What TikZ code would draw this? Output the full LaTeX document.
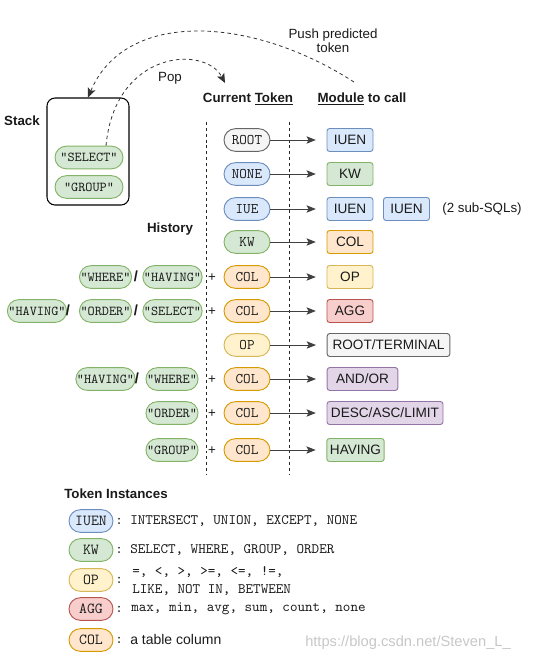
\documentclass[tikz,border=0pt]{standalone}
\usepackage{fontspec}
\setmainfont{Liberation Sans}
\usetikzlibrary{arrows.meta}
\definecolor{bluef}{HTML}{DAE8FC}\definecolor{blued}{HTML}{6C8EBF}
\definecolor{greenf}{HTML}{D5E8D4}\definecolor{greend}{HTML}{82B366}
\definecolor{orangef}{HTML}{FFE6CC}\definecolor{oranged}{HTML}{D79B00}
\definecolor{yellowf}{HTML}{FFF2CC}\definecolor{yellowd}{HTML}{D6B656}
\definecolor{redf}{HTML}{F8CECC}\definecolor{redd}{HTML}{B85450}
\definecolor{purplef}{HTML}{E1D5E7}\definecolor{purpled}{HTML}{9673A6}
\definecolor{grayf}{HTML}{F5F5F5}\definecolor{grayd}{HTML}{666666}
\definecolor{ink}{HTML}{1A1A1A}
\begin{document}
\begin{tikzpicture}[x=0.75pt,y=-0.75pt,
  every node/.style={text=ink},
  cblue/.style={fill=bluef,draw=blued},
  cgreen/.style={fill=greenf,draw=greend},
  corange/.style={fill=orangef,draw=oranged},
  cyellow/.style={fill=yellowf,draw=yellowd},
  cred/.style={fill=redf,draw=redd},
  cpurple/.style={fill=purplef,draw=purpled},
  cgray/.style={fill=grayf,draw=grayd},
  pill/.style={rectangle,rounded corners=8.5pt,minimum height=17pt,minimum width=34.5pt,
    inner xsep=1pt,inner ysep=1pt,line width=0.7pt,font=\ttfamily\fontsize{11}{12}\selectfont},
  hist/.style={pill,cgreen,minimum width=0pt,inner xsep=0.8pt,font=\ttfamily\fontsize{10.2}{12}\selectfont},
  legpill/.style={pill,minimum width=33pt,font=\ttfamily\fontsize{11.5}{12}\selectfont},
  modbox/.style={rectangle,rounded corners=2pt,minimum height=17.25pt,minimum width=34.5pt,
    inner sep=1pt,line width=0.7pt,font=\fontsize{10.2}{12}\selectfont},
  hdr/.style={font=\bfseries\fontsize{10}{12}\selectfont},
  lbl/.style={font=\fontsize{10}{12}\selectfont},
  sep/.style={font=\bfseries\fontsize{11}{12}\selectfont,inner sep=0pt},
  plus/.style={font=\fontsize{10}{12}\selectfont,inner sep=0pt},
  desc/.style={anchor=west,inner sep=0pt,font=\ttfamily\fontsize{10.8}{13.5}\selectfont,align=left},
  conn/.style={draw=black!75,line width=0.7pt,-{Stealth[length=7pt,width=5.5pt,inset=1.5pt]},shorten >=8pt},
  curv/.style={draw=black!80,line width=0.6pt,dash pattern=on 2.6pt off 2.4pt,
    -{Stealth[length=7pt,width=6pt,inset=1.5pt]}},
  vsep/.style={draw=black!85,line width=0.6pt,dash pattern=on 2.2pt off 2.2pt}
]
\useasboundingbox (0,0) rectangle (549,662);

% ---------- stack ----------
\node[hdr] (stacklbl) at (22,121) {Stack};
\node[draw=black,line width=0.8pt,rounded corners=6pt,minimum width=61.5pt,minimum height=80.25pt] (stack) at (88,151.5) {};
\node[hist,minimum width=51pt] (sel) at (89,157.5) {"SELECT"};
\node[hist,minimum width=51pt] (grp) at (89,187) {"GROUP"};

% ---------- headers ----------
\node[hdr] (hcur) at (248,99) {Current \underline{Token}};
\node[hdr] (hmod) at (362,99) {\underline{Module} to call};
\node[hdr] (hhist) at (170,229) {History};

% ---------- curved arrows ----------
\coordinate (pushstart) at (354,82);
\coordinate (popend) at (225,83);
\draw[curv] (pushstart) .. controls (250,15) and (125,10) .. (stack.north);
\draw[curv] ([xshift=12.75pt]sel.north) .. controls (115,50) and (205,45) .. (popend);
\node[lbl] (poplbl) at (170,78) {Pop};
\node[lbl,align=center,inner sep=0pt] (pushlbl) at (333,41) {Push predicted\\[-1.5pt]token};

% ---------- vertical separators ----------
\coordinate (v1t) at (206,122); \coordinate (v1b) at (206,475);
\coordinate (v2t) at (289,122); \coordinate (v2b) at (289,475);
\draw[vsep] (v1t) -- (v1b);
\draw[vsep] (v2t) -- (v2b);

% ---------- current tokens ----------
\node[pill,cgray]   (t1)  at (247,140) {ROOT};
\node[pill,cblue]   (t2)  at (247,174) {NONE};
\node[pill,cblue]   (t3)  at (247,209) {IUE};
\node[pill,cgreen]  (t4)  at (247,242) {KW};
\node[pill,corange] (t5)  at (247,277) {COL};
\node[pill,corange] (t6)  at (247,311) {COL};
\node[pill,cyellow] (t7)  at (247,345) {OP};
\node[pill,corange] (t8)  at (247,379) {COL};
\node[pill,corange] (t9)  at (247,413) {COL};
\node[pill,corange] (t10) at (247,450) {COL};

% ---------- modules ----------
\node[modbox,cblue]   (m1)  at (350,140) {IUEN};
\node[modbox,cgreen]  (m2)  at (350,174) {KW};
\node[modbox,cblue]   (m3)  at (350,209) {IUEN};
\node[modbox,cblue]   (m3b) at (406.5,209) {IUEN};
\node[lbl] (subsql) at (482,209) {(2 sub-SQLs)};
\node[modbox,corange] (m4)  at (350,242) {COL};
\node[modbox,cyellow] (m5)  at (350,277) {OP};
\node[modbox,cred]    (m6)  at (350,311) {AGG};
\node[modbox,cgray,minimum width=92pt]   (m7)  at (388.5,345) {ROOT/TERMINAL};
\node[modbox,cpurple,minimum width=53pt] (m8)  at (362.5,379) {AND/OR};
\node[modbox,cpurple,minimum width=87pt] (m9)  at (385,413) {DESC/ASC/LIMIT};
\node[modbox,cgreen,minimum width=43pt]  (m10) at (355.5,450) {HAVING};

\foreach \i in {1,...,10}{\draw[conn] (t\i) -- (m\i);}

% ---------- history ----------
\node[hist] (h1a) at (105.5,277) {"WHERE"};
\node[sep]  (s1a) at (136,276) {/};
\node[hist] (h1b) at (172.5,277) {"HAVING"};
\node[plus] (p1)  at (212,278) {+};

\node[hist] (h2a) at (37,311) {"HAVING"};
\node[sep]  (s2a) at (68,310) {/};
\node[hist] (h2b) at (105.5,311) {"ORDER"};
\node[sep]  (s2b) at (136,310) {/};
\node[hist] (h2c) at (172.5,311) {"SELECT"};
\node[plus] (p2)  at (212,312) {+};

\node[hist] (h3a) at (105.5,379) {"HAVING"};
\node[sep]  (s3a) at (137,378) {/};
\node[hist] (h3b) at (172,379) {"WHERE"};
\node[plus] (p3)  at (212,380) {+};

\node[hist] (h4a) at (172,413) {"ORDER"};
\node[plus] (p4)  at (212,414) {+};

\node[hist] (h5a) at (172,450) {"GROUP"};
\node[plus] (p5)  at (212,451) {+};

% ---------- legend ----------
\node[hdr] (tinst) at (116,494) {Token Instances};
\node[legpill,cblue]   (l1) at (91,521) {IUEN};
\node[legpill,cgreen]  (l2) at (91,550) {KW};
\node[legpill,cyellow] (l3) at (91,580) {OP};
\node[legpill,cred]    (l4) at (91,609) {AGG};
\node[legpill,corange] (l5) at (91,640) {COL};
\foreach \y/\n in {521/1,550/2,580/3,609/4,640/5}{\node[desc] (c\n) at (115,\y) {:};}
\node[desc] (d1) at (130,521) {INTERSECT, UNION, EXCEPT, NONE};
\node[desc] (d2) at (130,550) {SELECT, WHERE, GROUP, ORDER};
\node[desc] (d3) at (132,581.5) {=, <, >, >=, <=, !=,\\LIKE, NOT IN, BETWEEN};
\node[desc] (d4) at (131,609) {max, min, avg, sum, count, none};
\node[desc,font=\fontsize{10.5}{12}\selectfont] (d5) at (130,639) {a table column};

% ---------- watermark ----------
\node[font=\fontsize{11}{12}\selectfont,text=black!22] (wm) at (408,643) {https://blog.csdn.net/Steven\_L\_};
\end{tikzpicture}
\end{document}
